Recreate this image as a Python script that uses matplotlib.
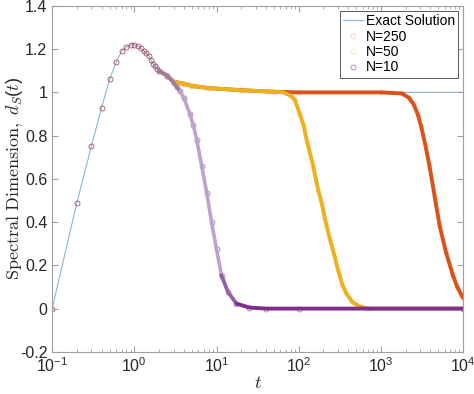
import matplotlib
matplotlib.use("Agg")
import matplotlib.pyplot as plt
import numpy as np

plt.rcParams['font.family'] = ['Liberation Sans', 'DejaVu Sans']
plt.rcParams['mathtext.default'] = 'regular'

# early part shared by the exact curve and all three runs
t_early = [0.1, 0.2, 0.3, 0.4, 0.5, 0.6, 0.7, 0.8, 0.9, 1.0, 1.1, 1.2, 1.3,
           1.4, 1.5, 1.6, 1.7, 1.8, 1.9, 2.0]
d_early = [0.0, 0.49, 0.75, 0.93, 1.06, 1.14, 1.19, 1.21, 1.22, 1.22, 1.215,
           1.205, 1.193, 1.18, 1.17, 1.15, 1.13, 1.12, 1.11, 1.10]

t_exact = t_early + [2.5, 3, 4, 5, 7, 10, 20, 50, 100, 1000, 10000]
d_exact = d_early + [1.078, 1.05, 1.04, 1.03, 1.02, 1.015, 1.008, 1.003, 1.0, 1.0, 1.0]

t_n250 = t_early + [2.5, 3, 4, 5, 8, 20, 50, 100, 1000, 1800, 2200, 2500,
                    2800, 3100, 3500, 3900, 4500, 5200, 6200, 7500, 8500,
                    9500, 10000]
d_n250 = d_early + [1.078, 1.05, 1.04, 1.03, 1.02, 1.01, 1.003, 1.0, 1.0,
                    0.995, 0.975, 0.945, 0.9, 0.84, 0.75, 0.66, 0.52, 0.38,
                    0.26, 0.155, 0.1, 0.065, 0.05]

t_n50 = t_early + [2.5, 3, 4, 5, 8, 20, 40, 65, 80, 90, 103, 115, 125, 150,
                   172, 190, 210, 240, 270, 300, 340, 380, 450, 550, 700, 10000]
d_n50 = d_early + [1.078, 1.05, 1.04, 1.03, 1.02, 1.01, 1.005, 1.0, 0.985,
                   0.965, 0.9, 0.845, 0.78, 0.66, 0.55, 0.49, 0.41, 0.32,
                   0.25, 0.18, 0.11, 0.07, 0.03, 0.01, 0.0, 0.0]

t_n10 = t_early + [2.5, 3.0, 3.3, 3.6, 4.0, 4.75, 5.2, 5.75, 6.6, 7.6, 8.7,
                   10, 11.5, 13.8, 17.5, 25, 40, 100, 10000]
d_n10 = d_early + [1.078, 1.045, 1.024, 1.005, 0.975, 0.9, 0.85, 0.78, 0.66,
                   0.535, 0.40, 0.275, 0.153, 0.076, 0.023, 0.005, 0.0, 0.0, 0.0]

series = [
    ('N=250', t_n250, d_n250, '#D95319', 0.35),
    ('N=50', t_n50, d_n50, '#EDB120', 0.35),
    ('N=10', t_n10, d_n10, '#7E2F8E', 0.75),
]

fig = plt.figure(figsize=(4.74, 3.94), dpi=100)
ax = fig.add_axes([0.110, 0.107, 0.867, 0.878])

ax.plot(t_exact, d_exact, color='#8ab6d6', lw=0.8, label='Exact Solution',
        zorder=1)

for name, t, d, col, mk_alpha in series:
    t = np.array(t)
    d = np.array(d)
    # markers sit under the thick band, which stands for the dense samples
    ax.plot(t, d, ls='none', marker='o', ms=3.6, mfc='none', mec=col,
            mew=0.5, alpha=mk_alpha, label=name, zorder=1.5)
    if name == 'N=10':
        # sparse hollow markers on the steep part look lighter
        seg1 = (t >= 2.0) & (t <= 3.6)
        seg2 = (t >= 3.6) & (t <= 11.5)
        seg3 = (t >= 11.5) & (t <= 17.5)
        seg4 = t >= 17.5
        ax.plot(t[seg1], d[seg1], color='#9a7aab', lw=2.6, zorder=2)
        ax.plot(t[seg2], d[seg2], color='#bba3cc', lw=2.6, zorder=2)
        ax.plot(t[seg3], d[seg3], color='#9560a6', lw=2.7, zorder=2)
        ax.plot(t[seg4], d[seg4], color=col, lw=2.8, solid_capstyle='round',
                zorder=2)
    else:
        dense = t >= 2.0
        ax.plot(t[dense], d[dense], color=col, lw=2.8, solid_capstyle='round',
                zorder=2)

ax.set_xscale('log')
ax.set_xlim(0.1, 1e4)
ax.set_ylim(-0.2, 1.4)
ax.set_yticks([-0.2, 0, 0.2, 0.4, 0.6, 0.8, 1.0, 1.2, 1.4])
ax.set_yticklabels(['-0.2', '0', '0.2', '0.4', '0.6', '0.8', '1', '1.2', '1.4'])

for s in ax.spines.values():
    s.set_color('#a0a0a0')
    s.set_linewidth(0.8)
ax.tick_params(which='both', direction='in', top=True, right=True,
               color='#a0a0a0', labelcolor='#262626', labelsize=11.5)
ax.tick_params(which='major', length=4)
ax.tick_params(which='minor', length=2)

ax.set_ylabel(r'$\mathrm{Spectral\ Dimension,}\ \mathit{d}_\mathit{S}(\mathit{t})$',
              fontsize=13, math_fontfamily='cm', color='#262626')
ax.yaxis.set_label_coords(-0.065, 0.5)
ax.set_xlabel(r'$\mathit{t}$', fontsize=13, math_fontfamily='cm',
              color='#262626', labelpad=0)

leg = ax.legend(loc='upper right', fontsize=10, frameon=True, fancybox=False,
                framealpha=1, edgecolor='#404040', handlelength=1.4,
                handletextpad=0.2, borderpad=0.25, labelspacing=0.1,
                borderaxespad=0.35)
leg.get_frame().set_linewidth(0.6)

fig.savefig('out.png', dpi=100)
